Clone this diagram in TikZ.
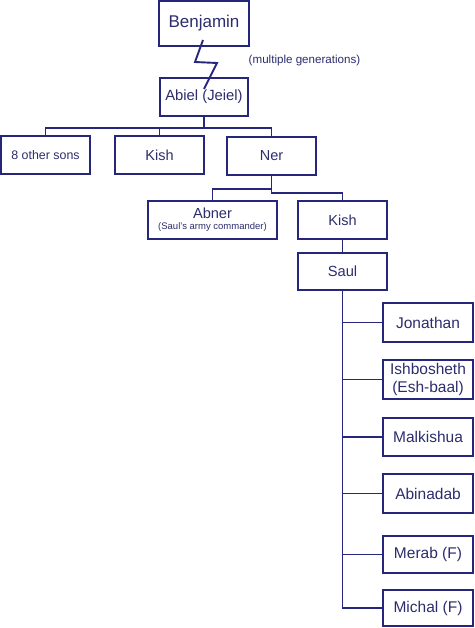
\documentclass[tikz,border=0pt]{standalone}
\usepackage{fontspec}
\setmainfont{Liberation Sans}
\definecolor{linec}{RGB}{38,38,122}
\definecolor{textc}{RGB}{45,45,110}
\tikzset{
  box/.style={draw=linec, line width=1.9pt, fill=white, text=textc, inner sep=0pt, align=center},
  conn/.style={draw=linec, line width=1.9pt},
}
\newcommand{\fs}[1]{\fontsize{#1}{#1}\selectfont}
\begin{document}
\begin{tikzpicture}[x=1pt,y=-1pt]
\useasboundingbox (0,0) rectangle (474,628);
% top
\node[box, minimum width=90, minimum height=45] (benj) at (204,23.5) {\fs{17}Benjamin};
\node[box, minimum width=88, minimum height=38] (abiel) at (204,97) {\fs{14.8}Abiel (Jeiel)};
\node[text=textc, inner sep=0pt] (mult) at (304.5,61) {\fs{11.6}(multiple generations)};
% zigzag
\coordinate (z1) at (203,40);
\coordinate (z2) at (195,62);
\coordinate (z3) at (217,63);
\coordinate (z4) at (204,89);
\draw[conn, line join=miter] (z1) -- (z2) -- (z3) -- (z4);
% row 2
\node[box, minimum width=89, minimum height=38] (others) at (45.5,155) {\fs{12.4}8 other sons};
\node[box, minimum width=89, minimum height=38] (kish) at (159.5,155) {\fs{14.5}Kish};
\node[box, minimum width=89, minimum height=38] (ner) at (271.5,156) {\fs{14.5}Ner};
\coordinate (bus1) at (0,128);
\draw[conn] (abiel.south) -- (abiel.south |- bus1);
\draw[conn] (others.north) -- (others.north |- bus1) -- (ner.north |- bus1) -- (ner.north);
\draw[conn] (kish.north) -- (kish.north |- bus1);
% row 3
\node[box, minimum width=129, minimum height=38] (abner) at (212.5,220) {\fs{14.6}Abner\\[-1pt]\fs{9.5}(Saul's army commander)};
\node[box, minimum width=89, minimum height=38] (kish2) at (342.5,220) {\fs{14.5}Kish};
\coordinate (busA) at (0,189);
\coordinate (busK) at (0,193);
\draw[conn] (ner.south) -- (ner.south |- busK) -- (kish2.north |- busK) -- (kish2.north);
\draw[conn] (ner.south |- busA) -- (abner.north |- busA) -- (abner.north);
% Saul
\node[box, minimum width=89, minimum height=37] (saul) at (342.5,271.5) {\fs{14.7}Saul};
\draw[conn] (kish2.south) -- (saul.north);
% children
\tikzset{kid/.style={box, minimum width=90, font=\fontsize{15.5}{18}\selectfont}}
\node[kid, minimum height=39] (jon) at (428,322.5) {Jonathan};
\node[kid, minimum height=39] (ish) at (428,379.5) {Ishbosheth\\(Esh-baal)};
\node[kid, minimum height=38] (mal) at (428,437) {Malkishua};
\node[kid, minimum height=39] (abi) at (428,493.5) {Abinadab};
\node[kid, minimum height=37] (mer) at (428,554.5) {Merab (F)};
\node[kid, minimum height=36] (mic) at (428,608) {Michal (F)};
\draw[conn] (saul.south) -- (saul.south |- mic.west) -- (mic.west);
\foreach \c in {jon,ish,mal,abi,mer}
  \draw[conn] (saul.south |- \c.west) -- (\c.west);
\end{tikzpicture}
\end{document}
